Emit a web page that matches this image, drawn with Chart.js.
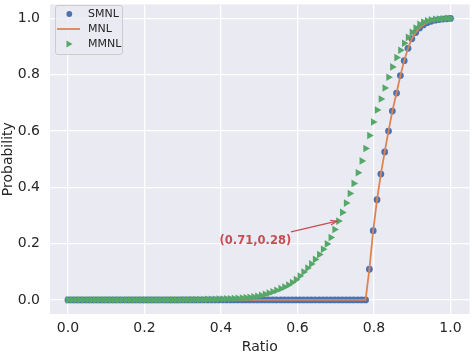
<!DOCTYPE html>
<html><head><meta charset="utf-8">
<script src="https://cdn.jsdelivr.net/npm/chart.js@4/dist/chart.umd.min.js"></script>
<style>html,body{margin:0;padding:0;background:#fff}#wrap{width:474px;height:356px}</style>
</head><body><div id="wrap"><canvas id="c" width="474" height="356"></canvas></div>
<script>
const ratios = [0.000,0.010,0.020,0.030,0.040,0.051,0.061,0.071,0.081,0.091,
0.101,0.111,0.121,0.131,0.141,0.152,0.162,0.172,0.182,0.192,
0.202,0.212,0.222,0.232,0.242,0.253,0.263,0.273,0.283,0.293,
0.303,0.313,0.323,0.333,0.343,0.354,0.364,0.374,0.384,0.394,
0.404,0.414,0.424,0.434,0.444,0.455,0.465,0.475,0.485,0.495,
0.505,0.515,0.525,0.535,0.545,0.556,0.566,0.576,0.586,0.596,
0.606,0.616,0.626,0.636,0.646,0.657,0.667,0.677,0.687,0.697,
0.707,0.717,0.727,0.737,0.747,0.758,0.768,0.778,0.788,0.798,
0.808,0.818,0.828,0.838,0.848,0.859,0.869,0.879,0.889,0.899,
0.909,0.919,0.929,0.939,0.949,0.960,0.970,0.980,0.990,1.000];
const smnl = [0,0,0,0,0,0,0,0,0,0,
0,0,0,0,0,0,0,0,0,0,
0,0,0,0,0,0,0,0,0,0,
0,0,0,0,0,0,0,0,0,0,
0,0,0,0,0,0,0,0,0,0,
0,0,0,0,0,0,0,0,0,0,
0,0,0,0,0,0,0,0,0,0,
0,0,0,0,0,0,0,0,0.109,0.246,
0.356,0.447,0.526,0.600,0.671,0.735,0.797,0.850,0.894,0.928,
0.950,0.966,0.977,0.985,0.990,0.994,0.996,0.998,0.999,1.000];
const mnl = smnl.slice();
const mmnl = [0,0,0,0,0,0,0,0,0,0,
0,0,0,0,0,0,0,0,0,0,
0,0,0,0,0,0,0,0,0,0,
0.001,0.001,0.001,0.001,0.001,0.001,0.002,0.002,0.002,0.003,
0.003,0.004,0.004,0.005,0.006,0.007,0.008,0.009,0.011,0.013,
0.016,0.020,0.024,0.029,0.034,0.040,0.046,0.053,0.062,0.072,
0.085,0.099,0.113,0.128,0.144,0.161,0.180,0.199,0.222,0.250,
0.280,0.311,0.344,0.378,0.414,0.452,0.494,0.538,0.584,0.632,
0.675,0.714,0.753,0.791,0.828,0.861,0.887,0.912,0.933,0.951,
0.966,0.979,0.987,0.992,0.995,0.997,0.998,0.999,1.000,1.000];
const seriesNames = ['SMNL','MNL','MMNL'];
const tickValues = [0.0,0.2,0.4,0.6,0.8,1.0];
const annotationText = '(0.71,0.28)';
const annotationPoint = [0.703,0.28];
const annotationTextPos = [0.49,0.21];
const annotationArrowStart = [0.583,0.242];

const FONT = "'DejaVu Sans', sans-serif";
const TXT = '#262626';
const C_BLUE = '#4C72B0', C_ORANGE = '#DD8452', C_GREEN = '#55A868', C_RED = '#C44E52';
const pts = arr => arr.map((v,i)=>({x:ratios[i], y:v}));

const bgPlugin = {
  id:'bg',
  beforeDraw(chart){
    const {ctx, chartArea:a} = chart;
    ctx.save();
    ctx.fillStyle = '#EAEAF2';
    ctx.fillRect(a.left, a.top, a.right-a.left, a.bottom-a.top);
    ctx.restore();
  }
};
const overlayPlugin = {
  id:'overlay',
  afterDraw(chart){
    const {ctx} = chart;
    const xs = chart.scales.x, ys = chart.scales.y;
    ctx.save();
    const tx = xs.getPixelForValue(annotationTextPos[0]), ty = ys.getPixelForValue(annotationTextPos[1]);
    ctx.font = "bold 11.5px " + FONT;
    ctx.fillStyle = C_RED;
    ctx.textAlign = 'center'; ctx.textBaseline = 'middle';
    ctx.fillText(annotationText, tx, ty);
    const sx = xs.getPixelForValue(annotationArrowStart[0]), sy = ys.getPixelForValue(annotationArrowStart[1]);
    const ex = xs.getPixelForValue(annotationPoint[0]), ey = ys.getPixelForValue(annotationPoint[1]);
    ctx.strokeStyle = C_RED; ctx.lineWidth = 1.2;
    ctx.beginPath(); ctx.moveTo(sx,sy); ctx.lineTo(ex,ey); ctx.stroke();
    const ang = Math.atan2(ey-sy, ex-sx), L = 7, W = 0.35;
    ctx.beginPath();
    ctx.moveTo(ex - L*Math.cos(ang-W), ey - L*Math.sin(ang-W));
    ctx.lineTo(ex,ey);
    ctx.lineTo(ex - L*Math.cos(ang+W), ey - L*Math.sin(ang+W));
    ctx.stroke();
    ctx.restore();
    ctx.save();
    const lx=55.5, ly=5.5, lw=67, lh=49;
    ctx.fillStyle='rgba(234,234,242,0.8)';
    ctx.strokeStyle='#CCCCCC'; ctx.lineWidth=1;
    ctx.beginPath(); ctx.roundRect(lx,ly,lw,lh,2.5); ctx.fill(); ctx.stroke();
    ctx.font = "11px " + FONT; ctx.fillStyle = TXT; ctx.textAlign='left'; ctx.textBaseline='middle';
    const rows=[14,29,44];
    seriesNames.forEach((n,i)=>ctx.fillText(n, 88, rows[i]+0.5));
    ctx.fillStyle=C_BLUE; ctx.beginPath(); ctx.arc(69.3,rows[0],2.9,0,Math.PI*2); ctx.fill();
    ctx.strokeStyle=C_ORANGE; ctx.lineWidth=1.8; ctx.beginPath(); ctx.moveTo(57,rows[1]); ctx.lineTo(80,rows[1]); ctx.stroke();
    ctx.fillStyle=C_GREEN; ctx.beginPath(); ctx.moveTo(66.5,rows[2]-3.4); ctx.lineTo(72.5,rows[2]); ctx.lineTo(66.5,rows[2]+3.4); ctx.closePath(); ctx.fill();
    ctx.restore();
  }
};

new Chart(document.getElementById('c'), {
  type:'scatter',
  data:{datasets:[
    {label:seriesNames[0], data:pts(smnl), order:3, pointStyle:'circle', pointRadius:3.4, pointHoverRadius:3.4,
     backgroundColor:C_BLUE, borderColor:C_BLUE, borderWidth:0, showLine:false},
    {label:seriesNames[1], data:pts(mnl), order:2, pointRadius:0, showLine:true, borderColor:C_ORANGE, borderWidth:1.8,
     backgroundColor:C_ORANGE, tension:0},
    {label:seriesNames[2], data:pts(mmnl), order:1, pointStyle:'triangle', rotation:90, pointRadius:4.4, pointHoverRadius:4.4,
     backgroundColor:C_GREEN, borderColor:C_GREEN, borderWidth:0, showLine:false}
  ]},
  options:{
    responsive:false, animation:false, devicePixelRatio:1,
    layout:{padding:0},
    plugins:{legend:{display:false}, tooltip:{enabled:false}},
    scales:{
      x:{type:'linear', min:-0.047, max:1.05,
         afterFit(s){ s.height = 42; s.paddingLeft = 0; s.paddingRight = 0; },
         afterBuildTicks(s){ s.ticks = tickValues.map(v=>({value:v})); },
         ticks:{font:{family:FONT,size:14}, color:TXT, padding:6, maxRotation:0, callback:v=>v.toFixed(1)},
         grid:{color:'#FFFFFF', lineWidth:1.3, drawTicks:false},
         border:{display:false},
         title:{display:true, text:'Ratio', font:{family:FONT,size:14}, color:TXT, padding:0}},
      y:{type:'linear', min:-0.05, max:1.05,
         afterFit(s){ s.width = 50; s.paddingTop = 0; s.paddingBottom = 0; },
         afterBuildTicks(s){ s.ticks = tickValues.map(v=>({value:v})); },
         ticks:{font:{family:FONT,size:14}, color:TXT, padding:10, callback:v=>v.toFixed(1)},
         grid:{color:'#FFFFFF', lineWidth:1.3, drawTicks:false},
         border:{display:false},
         title:{display:true, text:'Probability', font:{family:FONT,size:14}, color:TXT, padding:{top:0,bottom:0}}}
    }
  },
  plugins:[bgPlugin, overlayPlugin]
});
</script></body></html>
